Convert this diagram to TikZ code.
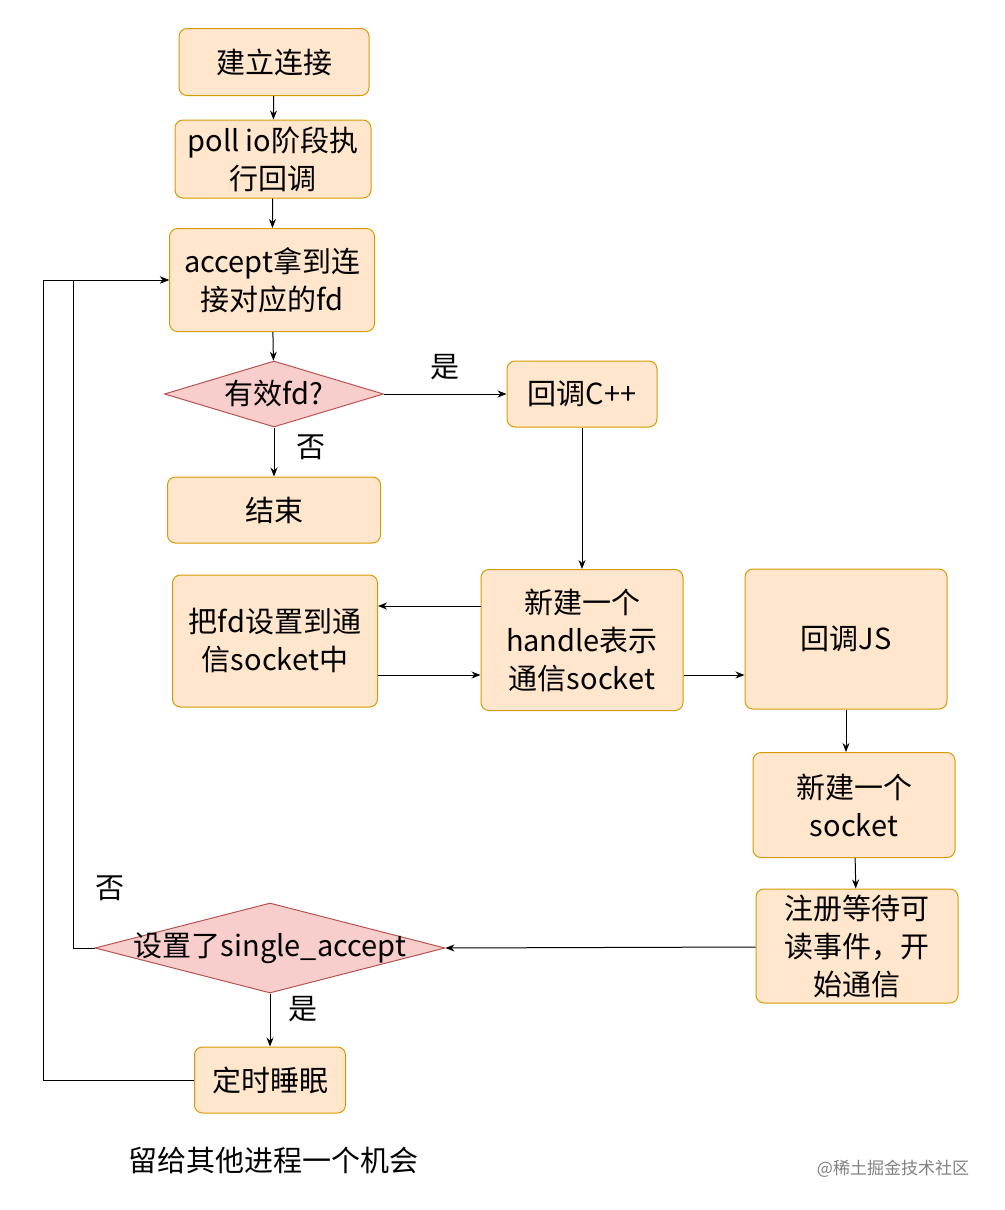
\documentclass[tikz,border=0pt]{standalone}
\usepackage{fontspec}
\setmainfont{Noto Sans CJK SC}
\usetikzlibrary{shapes.geometric,arrows.meta}
\definecolor{bfill}{HTML}{FFE6CC}\definecolor{bdraw}{HTML}{D79B00}
\definecolor{dfill}{HTML}{F8CECC}\definecolor{ddraw}{HTML}{B85450}
\begin{document}
\begin{tikzpicture}[x=1pt,y=-1pt,
 font=\fontsize{29}{38}\selectfont,
 box/.style={draw=bdraw,fill=bfill,rounded corners=8pt,line width=1pt,align=center,inner sep=0pt},
 dia/.style={draw=ddraw,fill=dfill,diamond,line width=1pt,inner sep=0pt,align=center},
 arr/.style={-{Stealth[length=9pt,width=7pt]},line width=1pt},
 lbl/.style={inner sep=0pt}]
\useasboundingbox (0,0) rectangle (1004,1210);
\node[box,minimum width=190pt,minimum height=67pt] (a) at (274,62) {建立连接};
\node[box,minimum width=196pt,minimum height=78pt] (b) at (273,159) {poll io阶段执\\行回调};
\node[box,minimum width=205pt,minimum height=103pt] (c) at (272,280) {accept拿到连\\接对应的fd};
\node[dia,minimum width=219pt,minimum height=66pt] (d) at (274,394) {};
\node at (d) {有效fd?};
\node[box,minimum width=213pt,minimum height=66pt] (e) at (274,510) {结束};
\node[box,minimum width=150pt,minimum height=66pt] (f) at (582,394) {回调C++};
\node[box,minimum width=205pt,minimum height=132pt] (g) at (275,641) {把fd设置到通\\信socket中};
\node[box,minimum width=202pt,minimum height=141pt] (h) at (582,640) {新建一个\\handle表示\\通信socket};
\node[box,minimum width=202pt,minimum height=140pt] (i) at (846,639) {回调JS};
\node[box,minimum width=202pt,minimum height=105pt] (j) at (854,805) {新建一个\\socket};
\node[box,minimum width=202pt,minimum height=114pt] (k) at (857,946) {注册等待可\\读事件，开\\始通信};
\node[dia,minimum width=350pt,minimum height=90pt] (l) at (270,948) {};
\node at (l) {设置了single\_accept};
\node[box,minimum width=151pt,minimum height=66pt] (m) at (270,1080) {定时睡眠};
\node[lbl] (t) at (273,1160) {留给其他进程一个机会};
\node[lbl,text=gray,font=\fontsize{17}{20}\selectfont] (w) at (893,1169) {@稀土掘金技术社区};
\draw[arr] (a) -- (b);
\draw[arr] (b) -- (c);
\draw[arr] (c) -- (d);
\draw[arr] (d) -- (e) node[lbl,pos=0.4,right=22pt] {否};
\draw[arr] (d) -- (f) node[lbl,midway,above=14pt] {是};
\draw[arr] (f) -- (h);
\draw[arr] (h.west|-0,606) -- (g.east|-0,606);
\draw[arr] (g.east|-0,675) -- (h.west|-0,675);
\draw[arr] (h.east|-0,675) -- (i.west|-0,675);
\draw[arr] (i.south-|846,0) -- (j.north-|846,0);
\draw[arr] (j) -- (k);
\draw[arr] (k.west|-0,947) -- (l.east);
\draw[arr] (l) -- (m) node[lbl,pos=0.3,right=18pt] {是};
\node[lbl] (no2) at (110,888) {否};
\draw[arr] (l.west) -- (73,948) -- (73,280) -- (c.west);
\draw[arr] (m.west) -- (43,1080) -- (43,280) -- (c.west);
\end{tikzpicture}
\end{document}
